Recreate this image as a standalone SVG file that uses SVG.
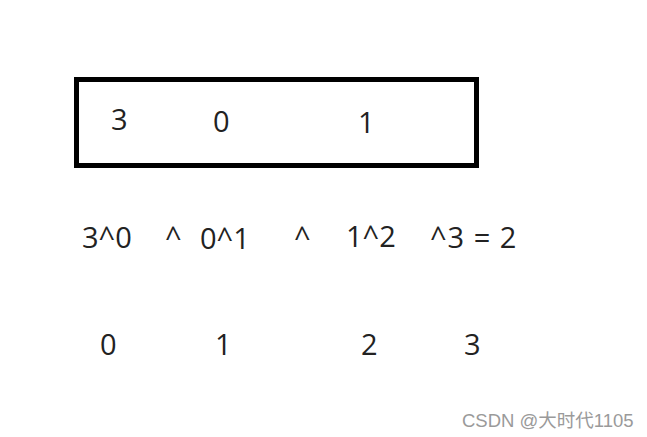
<svg xmlns="http://www.w3.org/2000/svg" width="647" height="437" viewBox="0 0 647 437">
<style>
.t{font-family:"Open Sans","Noto Sans","DejaVu Sans",sans-serif;font-size:29px;fill:#222}
.w{font-family:"Liberation Sans","Noto Sans CJK SC",sans-serif;font-size:18.5px;fill:#9a9a9a}
</style>
<rect width="647" height="437" fill="#fff"/>
<g id="box">
<rect x="76.5" y="79.5" width="400" height="86" fill="none" stroke="#000" stroke-width="5"/>
<text class="t" x="111" y="130">3</text>
<text class="t" x="213" y="132">0</text>
<text class="t" x="358" y="133">1</text>
</g>
<g id="expr">
<text class="t" x="82" y="248">3^0</text>
<text class="t" x="165" y="248">^</text>
<text class="t" x="200" y="249">0^1</text>
<text class="t" x="294" y="248">^</text>
<text class="t" x="346" y="247">1^2</text>
<text class="t" x="430" y="248" letter-spacing="1">^3 = 2</text>
</g>
<g id="idx">
<text class="t" x="100" y="355">0</text>
<text class="t" x="215" y="355">1</text>
<text class="t" x="361" y="355">2</text>
<text class="t" x="464" y="355">3</text>
</g>
<text class="w" x="462" y="427">CSDN @大时代1105</text>
</svg>
